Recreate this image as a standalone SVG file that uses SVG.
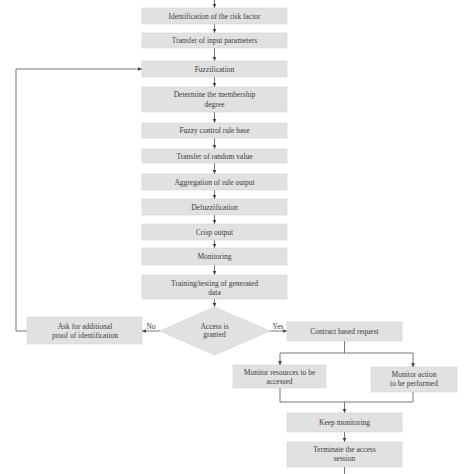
<svg xmlns="http://www.w3.org/2000/svg" width="474" height="474" viewBox="0 0 474 474">
<style>
.b{fill:#e1e1e1;stroke:#d2d2d2;stroke-width:0.6}
.t{font-family:"Liberation Serif","Times New Roman",serif;font-size:7.5px;fill:#3c3c3c;text-anchor:middle}
.c{fill:none;stroke:#555;stroke-width:0.8}
</style>
<defs>
<marker id="a" markerWidth="6" markerHeight="6" refX="5" refY="3" orient="auto" markerUnits="userSpaceOnUse">
<path d="M1,1.2 L5,3 L1,4.8 Z" fill="#444"/>
</marker>
</defs>
<rect width="474" height="474" fill="#fff"/>
<g id="connectors">
<path class="c" d="M214.5,0 V8" marker-end="url(#a)"/>
<path class="c" d="M214.5,24 V33" marker-end="url(#a)"/>
<path class="c" d="M214.5,48 V61" marker-end="url(#a)"/>
<path class="c" d="M214.5,77 V87" marker-end="url(#a)"/>
<path class="c" d="M214.5,112 V123" marker-end="url(#a)"/>
<path class="c" d="M214.5,138 V149" marker-end="url(#a)"/>
<path class="c" d="M214.5,163 V174" marker-end="url(#a)"/>
<path class="c" d="M214.5,190 V199" marker-end="url(#a)"/>
<path class="c" d="M214.5,215 V224" marker-end="url(#a)"/>
<path class="c" d="M214.5,240 V248" marker-end="url(#a)"/>
<path class="c" d="M214.5,265 V275" marker-end="url(#a)"/>
<path class="c" d="M214.5,299 V307" marker-end="url(#a)"/>
<path class="c" d="M160,331 H142" marker-end="url(#a)"/>
<path class="c" d="M270,331 H287" marker-end="url(#a)"/>
<path class="c" d="M27,331 H16 V69 H142" marker-end="url(#a)"/>
<path class="c" d="M344.5,341 V353"/>
<path class="c" d="M280,365 V353 H413 V367"/>
<path class="c" d="M280,361 V365" marker-end="url(#a)"/>
<path class="c" d="M413,363 V367" marker-end="url(#a)"/>
<path class="c" d="M280,388 V402 H413 V392"/>
<path class="c" d="M344.5,402 V413" marker-end="url(#a)"/>
<path class="c" d="M344.5,432 V442" marker-end="url(#a)"/>
<path class="c" d="M344.5,467 V474"/>
<text class="t" x="151" y="328.5">No</text>
<text class="t" x="278" y="328.5">Yes</text>
</g>
<g id="n1"><rect class="b" x="142" y="8" width="145" height="16"/><text class="t" x="214.5" y="18.6">Identification of the risk factor</text></g>
<g id="n2"><rect class="b" x="142" y="33" width="145" height="15"/><text class="t" x="214.5" y="43">Transfer of input parameters</text></g>
<g id="n3"><rect class="b" x="142" y="61" width="145" height="16"/><text class="t" x="214.5" y="71.6">Fuzzification</text></g>
<g id="n4"><rect class="b" x="142" y="87" width="145" height="25"/><text class="t" x="214.5" y="96.5">Determine the membership</text><text class="t" x="214.5" y="106.5">degree</text></g>
<g id="n5"><rect class="b" x="142" y="123" width="145" height="15"/><text class="t" x="214.5" y="133">Fuzzy control rule base</text></g>
<g id="n6"><rect class="b" x="142" y="149" width="145" height="14"/><text class="t" x="214.5" y="158.6">Transfer of random value</text></g>
<g id="n7"><rect class="b" x="142" y="174" width="145" height="16"/><text class="t" x="214.5" y="184.6">Aggregation of rule output</text></g>
<g id="n8"><rect class="b" x="142" y="199" width="145" height="16"/><text class="t" x="214.5" y="209.6">Defuzzification</text></g>
<g id="n9"><rect class="b" x="142" y="224" width="145" height="16"/><text class="t" x="214.5" y="234.6">Crisp output</text></g>
<g id="n10"><rect class="b" x="142" y="248" width="145" height="17"/><text class="t" x="214.5" y="259">Monitoring</text></g>
<g id="n11"><rect class="b" x="142" y="275" width="145" height="24"/><text class="t" x="214.5" y="285.5">Training/testing of generated</text><text class="t" x="214.5" y="294.5">data</text></g>
<g id="d1"><polygon points="214.5,307 270,331 214.5,355 160,331" fill="#e1e1e1" stroke="#d2d2d2" stroke-width="0.6"/><text class="t" x="214.5" y="328.5">Access is</text><text class="t" x="214.5" y="337">granted</text></g>
<g id="n12"><rect class="b" x="27" y="317" width="115" height="27"/><text class="t" x="85" y="328.5">Ask for additional</text><text class="t" x="85" y="337.5">proof of identification</text></g>
<g id="n13"><rect class="b" x="287" y="322" width="115" height="19"/><text class="t" x="344.5" y="333.6">Contract based request</text></g>
<g id="n14"><rect class="b" x="233" y="365" width="93" height="23"/><text class="t" x="279.5" y="374.5">Monitor resources to be</text><text class="t" x="279.5" y="384">accessed</text></g>
<g id="n15"><rect class="b" x="371" y="367" width="86" height="25"/><text class="t" x="414" y="376.5">Monitor action</text><text class="t" x="414" y="385.5">to be performed</text></g>
<g id="n16"><rect class="b" x="287" y="413" width="115" height="19"/><text class="t" x="344.5" y="425">Keep monitoring</text></g>
<g id="n17"><rect class="b" x="287" y="442" width="115" height="25"/><text class="t" x="344.5" y="452">Terminate the access</text><text class="t" x="344.5" y="460.5">session</text></g>
</svg>
